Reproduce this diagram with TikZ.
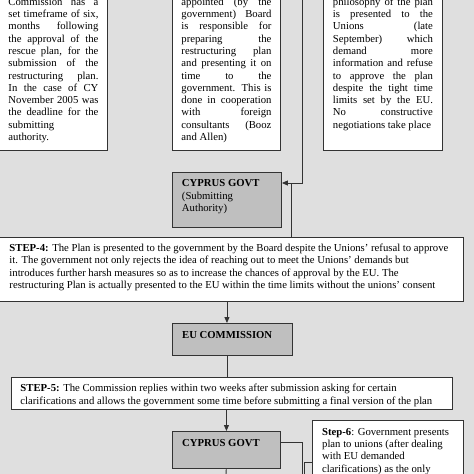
\documentclass[tikz,border=0pt]{standalone}
\usepackage{fontspec}
\setmainfont{Liberation Serif}
\usetikzlibrary{arrows.meta,positioning}
\definecolor{panel}{gray}{0.875}
\definecolor{govtgray}{gray}{0.75}
\definecolor{edge}{gray}{0.2}

\begin{document}
\begin{tikzpicture}[x=1pt,y=-1pt,>={Triangle[length=6pt,width=5pt]},
  every node/.style={font=\fontsize{10.7}{12.3}\selectfont},
  box/.style={draw=edge,line width=0.9pt,fill=white,inner xsep=9pt,inner ysep=6pt},
  govt/.style={box,fill=govtgray},
  link/.style={draw=edge,line width=0.8pt}]
   \useasboundingbox (0,0) rectangle (474,474);
   \clip (0,0) rectangle (474,474);
   \fill[panel] (0,0) rectangle (474,474);
   % top row
   \node [box,anchor=south west,inner ysep=6.3pt] (rule) at (-1,151)
     {\parbox{90pt}{\strut Commission has a\linebreak set timeframe of six,\linebreak months following\linebreak the approval of the\linebreak rescue plan, for the\linebreak submission of the\linebreak restructuring plan.\linebreak In the case of CY\linebreak November 2005 was\linebreak the deadline for the\linebreak submitting\linebreak authority.\strut}};
   \node [box,anchor=south west,inner ysep=6.3pt] (board) at (172,151)
     {\parbox{90pt}{\strut appointed (by the\linebreak government) Board\linebreak is responsible for\linebreak preparing the\linebreak restructuring plan\linebreak and presenting it on\linebreak time to the\linebreak government. This is\linebreak done in cooperation\linebreak with foreign\linebreak consultants (Booz\linebreak and Allen)\strut}};
   \node [box,anchor=south west,inner xsep=9.5pt,inner ysep=18.6pt] (unions) at (323,151)
     {\parbox{100pt}{\strut philosophy of the plan\linebreak is presented to the\linebreak Unions (late\linebreak September) which\linebreak demand more\linebreak information and refuse\linebreak to approve the plan\linebreak despite the tight time\linebreak limits set by the EU.\linebreak No constructive\linebreak negotiations take place\strut}};
   % chain
   \node [govt,anchor=north west,inner xsep=9.5pt,inner ysep=5.9pt] (govt1) at (172,172)
     {\parbox[c][43.2pt][t]{90pt}{\strut\textbf{CYPRUS GOVT}\\(Submitting\\Authority)}};
   \node [box,anchor=north west,inner xsep=10pt,inner ysep=5.4pt] (step4) at (-1,237)
     {\parbox[c][53.2pt][t]{444pt}{\strut\textbf{STEP-4:} The Plan is presented to the government by the Board despite the Unions' refusal to approve\\it. The government not only rejects the idea of reaching out to meet the Unions' demands but\\introduces further harsh measures so as to increase the chances of approval by the EU. The\\restructuring Plan is actually presented to the EU within the time limits without the unions' consent}};
   \node [govt,anchor=north west,inner xsep=9.7pt,inner ysep=6.9pt] (eu) at (172,323)
     {\parbox[c][18.2pt][t]{100.6pt}{\strut\textbf{EU COMMISSION}}};
   \node [box,anchor=north west,inner ysep=5.9pt] (step5) at (11,377)
     {\parbox[c][20.2pt][t]{423pt}{\strut\textbf{STEP-5:} The Commission replies within two weeks after submission asking for certain\\clarifications and allows the government some time before submitting a final version of the plan}};
   \node [govt,anchor=north west,inner xsep=9.7pt,inner ysep=6.9pt] (govt2) at (172,431)
     {\parbox[c][23.2pt][t]{88.6pt}{\strut\textbf{CYPRUS GOVT}}};
   \node [box,anchor=north west,inner xsep=9.7pt,inner ysep=6.1pt] (step6) at (312,420)
     {\parbox[c][70pt][t]{131.6pt}{\strut\textbf{Step-6}: Government presents\\plan to unions (after dealing\\with EU demanded\\clarifications) as the only}};
   \coordinate (fromtop) at (302,-5);
   \coordinate (k1) at (302,183);
   \coordinate (j1) at (291,183);
   \coordinate (k2) at (302,442);
   \coordinate (k3) at (304.5,462);
   \coordinate (down1) at (226,480);
   \coordinate (down2) at (302,480);
   \coordinate (down3) at (304.5,480);
   \draw[link,->] (fromtop) -- (k1) -- (k1 -| govt1.east);
   \draw[link] (j1) -- (j1 |- step4.north);
   \draw[link,->] (step4.south -| govt1.south) -- (eu.north -| govt1.south);
   \draw[link] (eu.south -| govt1.south) -- (step5.north -| govt1.south);
   \draw[link,->] (step5.south -| govt2.north) -- (govt2.north);
   \draw[link] (govt2) -- (down1);
   \draw[link] (k2 -| govt2.east) -- (k2) -- (down2);
   \draw[link] (k3 -| step6.west) -- (k3) -- (down3);
\end{tikzpicture}
\end{document}
